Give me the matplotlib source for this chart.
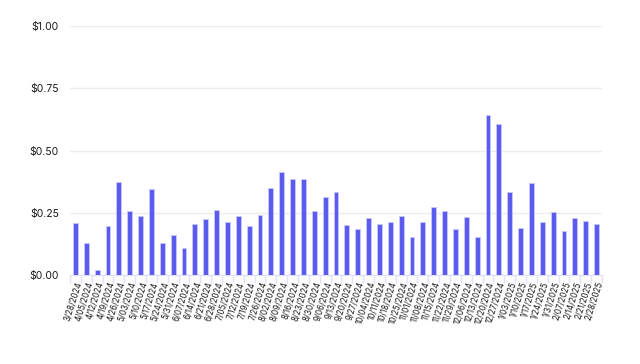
import matplotlib
matplotlib.use("Agg")
import matplotlib.pyplot as plt
import numpy as np

dates = ["3/28/2024", "4/05/2024", "4/12/2024", "4/19/2024", "4/26/2024", "5/03/2024",
         "5/10/2024", "5/17/2024", "5/24/2024", "5/31/2024", "6/07/2024", "6/14/2024",
         "6/21/2024", "6/28/2024", "7/05/2024", "7/12/2024", "7/19/2024", "7/26/2024",
         "8/02/2024", "8/09/2024", "8/16/2024", "8/23/2024", "8/30/2024", "9/06/2024",
         "9/13/2024", "9/20/2024", "9/27/2024", "10/04/2024", "10/11/2024", "10/18/2024",
         "10/25/2024", "11/01/2024", "11/08/2024", "11/15/2024", "11/22/2024", "11/29/2024",
         "12/06/2024", "12/13/2024", "12/20/2024", "12/27/2024", "1/03/2025", "1/10/2025",
         "1/17/2025", "1/24/2025", "1/31/2025", "2/07/2025", "2/14/2025", "2/21/2025",
         "2/28/2025"]
values = [0.208, 0.127, 0.019, 0.195, 0.373, 0.257, 0.238, 0.345, 0.130, 0.162,
          0.107, 0.203, 0.224, 0.262, 0.214, 0.238, 0.197, 0.241, 0.351, 0.412,
          0.386, 0.386, 0.259, 0.312, 0.335, 0.199, 0.185, 0.227, 0.203, 0.214,
          0.238, 0.153, 0.211, 0.273, 0.257, 0.185, 0.234, 0.153, 0.642, 0.607,
          0.335, 0.188, 0.368, 0.211, 0.254, 0.176, 0.230, 0.218, 0.203]
yticks = [0.0, 0.25, 0.5, 0.75, 1.0]
ytick_labels = ["$0.00", "$0.25", "$0.50", "$0.75", "$1.00"]

plt.rcParams['font.family'] = ['Inter', 'DejaVu Sans']

fig = plt.figure(figsize=(6.4, 3.64), dpi=100)
ax = fig.add_axes([70/640, (364-275)/364, (602-70)/640, (275-26)/364])

x = np.arange(len(values))
ax.bar(x, values, width=0.45, color='#5b5bf0', edgecolor='#c9c9fb', linewidth=0.6, zorder=3)

ax.set_xlim(-0.5, len(values) - 0.5)
ax.set_ylim(0, 1.0)
ax.set_yticks(yticks)
ax.set_yticklabels(ytick_labels, fontsize=7.5, color='#1a1a1a')
ax.tick_params(axis='y', length=0, pad=8)
ax.grid(axis='y', color='#ececec', linewidth=1, zorder=0)

ax.set_xticks(x)
ax.set_xticklabels(dates, rotation=72, ha='right', va='top', rotation_mode='anchor',
                   fontsize=5.8, color='#1a1a1a')
ax.tick_params(axis='x', which='major', length=0, pad=4)
ax.set_xticks(np.arange(len(values) + 1) - 0.5, minor=True)
ax.tick_params(axis='x', which='minor', length=6, color='#dde2f7', width=1)

for s in ['top', 'right', 'left']:
    ax.spines[s].set_visible(False)
ax.spines['bottom'].set_color('#dde2f7')
ax.spines['bottom'].set_linewidth(1)

fig.savefig('out.png', dpi=100)
